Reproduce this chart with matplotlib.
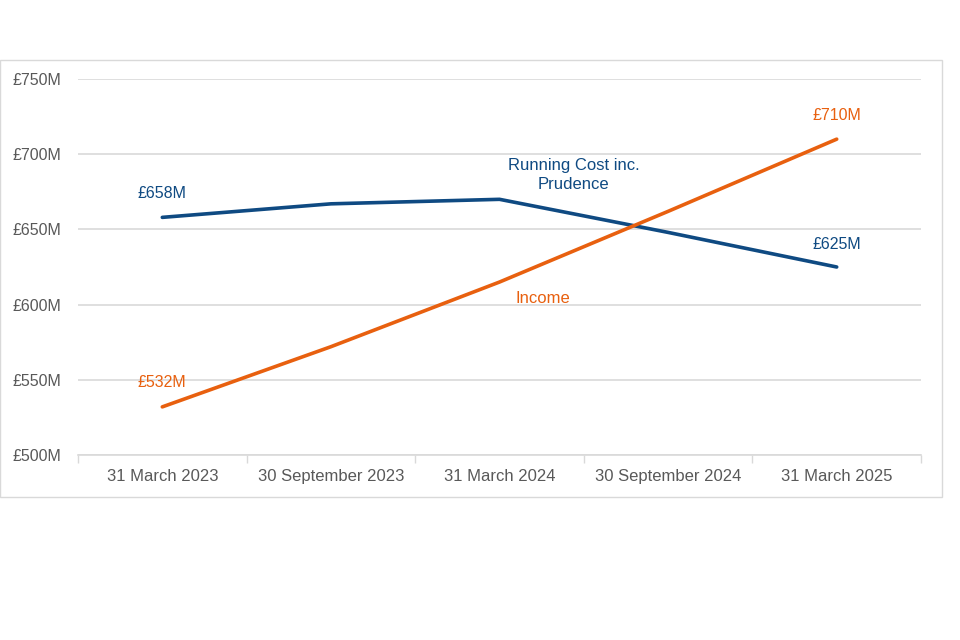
import matplotlib.pyplot as plt
from matplotlib.patches import Rectangle
import numpy as np

# Chart data
dates = ['31 March 2023', '30 September 2023', '31 March 2024',
         '30 September 2024', '31 March 2025']
running_cost = [658, 667, 670, 648, 625]
income = [532, 572, 615, 662, 710]
y_ticks = [500, 550, 600, 650, 700, 750]

blue = '#0f4a82'
orange = '#e8600f'
grey_text = '#595959'
grid_grey = '#d9d9d9'

plt.rcParams['font.family'] = ['Liberation Sans', 'DejaVu Sans']

fig = plt.figure(figsize=(9.6, 6.4), dpi=100)
ax = fig.add_axes([78 / 960, 1 - 455 / 640, (921 - 78) / 960, (455 - 79) / 640])

# Outer chart frame
fig.patches.append(Rectangle((0, 1 - 497 / 640), 942 / 960, (497 - 60) / 640,
                             transform=fig.transFigure, fill=False,
                             edgecolor=grid_grey, linewidth=1))

x = np.arange(len(dates))
ax.plot(x, running_cost, color=blue, linewidth=2.6, solid_capstyle='round')
ax.plot(x, income, color=orange, linewidth=2.6, solid_capstyle='round')

# Axes styling
ax.set_xlim(-0.5, len(dates) - 0.5)
ax.set_ylim(500, 750)
ax.set_yticks(y_ticks)
ax.set_yticklabels([f'£{v}M' for v in y_ticks])
ax.set_xticks(x)
ax.set_xticklabels(dates)
ax.set_xticks(np.arange(-0.5, len(dates), 1), minor=True)
ax.tick_params(axis='x', which='major', length=0, pad=10, colors=grey_text, labelsize=12)
ax.tick_params(axis='x', which='minor', length=6, color=grid_grey, width=1)
ax.tick_params(axis='y', length=0, pad=12, colors=grey_text, labelsize=11.5)
ax.grid(axis='y', color=grid_grey, linewidth=1.2)
ax.set_axisbelow(True)
for side in ['top', 'right', 'left']:
    ax.spines[side].set_visible(False)
ax.spines['bottom'].set_color(grid_grey)
ax.spines['bottom'].set_linewidth(1.2)

# Data labels
ax.text(0, running_cost[0] + 16, f'£{running_cost[0]}M', color=blue, fontsize=11.5, ha='center', va='center')
ax.text(0, income[0] + 16, f'£{income[0]}M', color=orange, fontsize=11.5, ha='center', va='center')
ax.text(4, income[-1] + 16, f'£{income[-1]}M', color=orange, fontsize=11.5, ha='center', va='center')
ax.text(4, running_cost[-1] + 15, f'£{running_cost[-1]}M', color=blue, fontsize=11.5, ha='center', va='center')

# Series labels
ax.text(2.44, 686, 'Running Cost inc.\nPrudence', color=blue, fontsize=12,
        ha='center', va='center', linespacing=1.3)
ax.text(2.26, 604, 'Income', color=orange, fontsize=12, ha='center', va='center')

fig.savefig('out.png', dpi=100)
